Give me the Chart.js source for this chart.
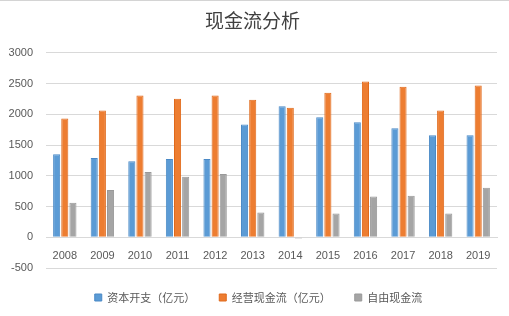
<!DOCTYPE html>
<html><head><meta charset="utf-8">
<script src="https://cdn.jsdelivr.net/npm/chart.js@4"></script>
<style>
html,body{margin:0;padding:0;background:#fff;}
#wrap{width:509px;height:315px;border-top:1px solid #d4d4d4;}
</style></head>
<body><div id="wrap"><canvas id="c" width="509" height="315"></canvas></div>
<script>
const categories = ['2008','2009','2010','2011','2012','2013','2014','2015','2016','2017','2018','2019'];
const capex = [1350,1290,1237,1274,1274,1834,2129,1951,1871,1774,1661,1661];
const opCash = [1930,2060,2307,2253,2307,2237,2108,2349,2532,2446,2060,2468];
const freeCash = [560,770,1060,984,1027,403,-21,387,661,677,387,806];
const seriesNames = ['资本开支（亿元）','经营现金流（亿元）','自由现金流'];
const yTicks = {min:-500, max:3000, step:500};

const cjk = '"Noto Sans CJK SC", sans-serif';
const latin = '"Liberation Sans", Arial, sans-serif';
const textColor = '#595959';

const legendShift = {
  id: 'legendShift',
  afterLayout(chart) {
    const lg = chart.legend;
    if (lg) { lg.left += 6; lg.right += 6; }
  }
};

new Chart(document.getElementById('c'), {
  type: 'bar',
  data: {
    labels: categories,
    datasets: [
      {label: seriesNames[0], data: capex, backgroundColor: '#5B9BD5', borderColor: '#4A89C6', borderWidth: 1},
      {label: seriesNames[1], data: opCash, backgroundColor: '#ED7D31', borderColor: '#E06A1C', borderWidth: 1},
      {label: seriesNames[2], data: freeCash, backgroundColor: '#A5A5A5', borderColor: '#999999', borderWidth: 1}
    ]
  },
  plugins: [legendShift],
  options: {
    responsive: false,
    animation: false,
    categoryPercentage: 0.65,
    barPercentage: 0.87,
    layout: {padding: {left: 8, right: 12, top: 8, bottom: 3}},
    plugins: {
      title: {display: true, text: '现金流分析', color: '#404040',
        font: {family: cjk, size: 19, weight: 'normal'}, padding: {top: 0, bottom: 21}},
      legend: {position: 'bottom',
        labels: {boxWidth: 7, boxHeight: 7, padding: 24, color: textColor,
          font: {family: cjk, size: 11}}},
      tooltip: {enabled: false}
    },
    scales: {
      x: {position: {y: 0},
        grid: {display: false},
        border: {display: true, color: '#d9d9d9'},
        ticks: {color: textColor, font: {family: latin, size: 11}, padding: 4}},
      y: {min: yTicks.min, max: yTicks.max,
        grid: {color: '#d9d9d9', drawTicks: false},
        border: {display: false},
        afterFit: s => { s.width = 38; },
        ticks: {stepSize: yTicks.step, color: textColor, padding: 13,
          callback: v => String(v),
          font: {family: latin, size: 11}}}
    }
  }
});
</script></body></html>
